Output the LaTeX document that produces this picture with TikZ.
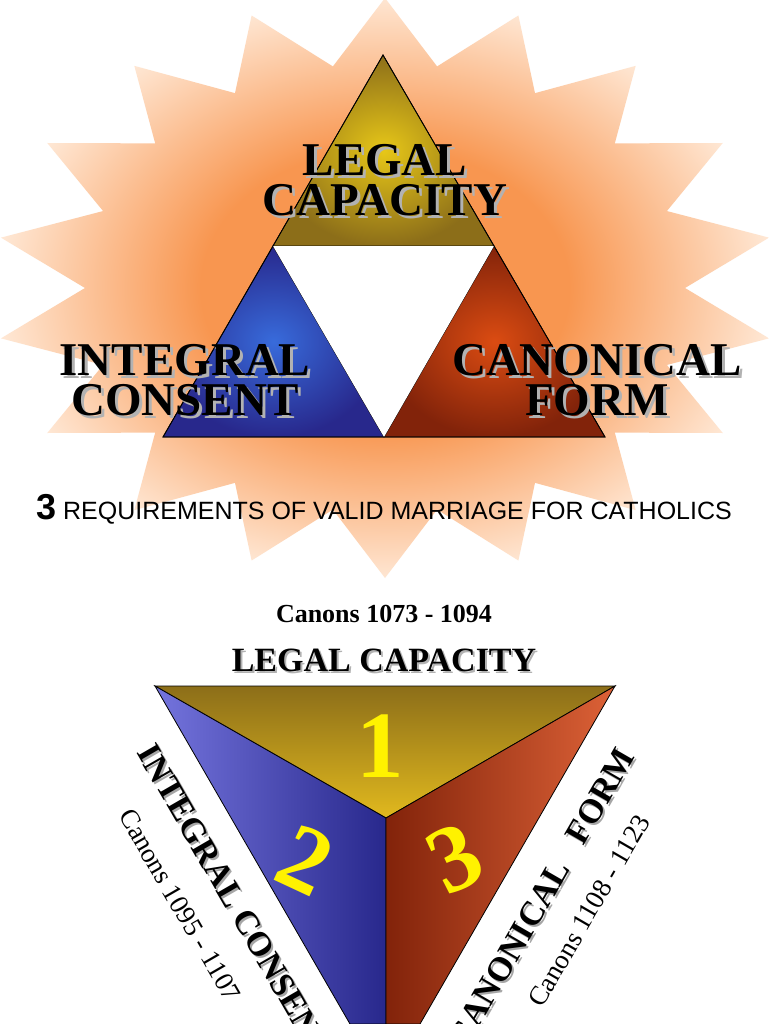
\documentclass[tikz,border=0pt]{standalone}
\usepackage{fontspec}
\setmainfont{Liberation Serif}
\newfontfamily\arialf{Liberation Sans}
\definecolor{gold}{RGB}{225,185,30}
\definecolor{golddk}{RGB}{140,110,25}
\definecolor{blu}{RGB}{70,70,210}
\definecolor{bludk}{RGB}{40,40,140}
\definecolor{rd}{RGB}{215,70,20}
\definecolor{rddk}{RGB}{130,35,10}
\definecolor{orin}{RGB}{248,150,80}
\definecolor{orout}{RGB}{255,236,220}
\pgfdeclareradialshading{starsh}{\pgfpoint{0bp}{0bp}}{color(0bp)=(orin); color(12bp)=(orin); color(26bp)=(orout); color(50bp)=(orout)}
\tikzset{
 big/.style={font=\fontsize{47}{40}\selectfont\bfseries, align=center, text=black},
 shad/.style={font=\fontsize{47}{40}\selectfont\bfseries, align=center, text=black!30},
 facet/.style={draw=black, line width=0.8pt},
 num/.style={font=\fontsize{95}{95}\selectfont\bfseries, text=yellow},
 edgetxt/.style={font=\fontsize{34}{34}\selectfont\bfseries},
 edgeshad/.style={font=\fontsize{34}{34}\selectfont\bfseries, text=black!35},
 cantxt/.style={font=\fontsize{27}{27}\selectfont}
}
\begin{document}
\begin{tikzpicture}[x=1pt,y=-1pt]
\useasboundingbox (0,0) rectangle (768,1024);
\fill[white] (0,0) rectangle (768,1024);
% starburst
\shade[shading=starsh]
  plot[samples=37, domain=0:36, variable=\k]
  ({385+(mod(\k,2)==0 ? 390 : 300)*sin(\k*10)}, {288-(mod(\k,2)==0 ? 290 : 225)*cos(\k*10)}) -- cycle;
% top triangle
\coordinate (A) at (383,55);
\coordinate (B) at (163,437);
\coordinate (C) at (605,437);
\coordinate (L) at (273,246);
\coordinate (R) at (494,246);
\coordinate (M) at (384,437);
\shade[facet, inner color=gold!80!yellow, outer color=golddk] (A) -- (L) -- (R) -- cycle;
\shade[facet, inner color=blu!80!cyan, outer color=bludk] (L) -- (B) -- (M) -- cycle;
\shade[facet, inner color=rd!90!orange, outer color=rddk] (R) -- (M) -- (C) -- cycle;
\fill[white] (L) -- (R) -- (M) -- cycle;
\draw[line width=0.8pt] (A) -- (B) -- (C) -- cycle;
\node[shad] at (388,183) {LEGAL\\CAPACITY};
\node[big] (lc) at (385,180) {LEGAL\\CAPACITY};
\node[shad] at (188,383) {INTEGRAL\\CONSENT};
\node[big] (ic) at (185,380) {INTEGRAL\\CONSENT};
\node[shad] at (600,383) {CANONICAL\\FORM};
\node[big] (cf) at (597,380) {CANONICAL\\FORM};
\node[font=\arialf\fontsize{25}{25}\selectfont] (cap) at (384,509)
  {{\fontsize{36}{36}\selectfont\bfseries 3} REQUIREMENTS OF VALID MARRIAGE FOR CATHOLICS};
% bottom
\node[font=\fontsize{26}{26}\selectfont\bfseries] (can) at (384,614) {Canons 1073 - 1094};
\node[font=\fontsize{34}{34}\selectfont\bfseries, text=black!30] at (386,662) {LEGAL CAPACITY};
\node[font=\fontsize{34}{34}\selectfont\bfseries] (lc2) at (384,660) {LEGAL CAPACITY};
\coordinate (P) at (155,686);
\coordinate (Q) at (615,686);
\coordinate (O) at (386,818);
\coordinate (LB) at (350,1024);
\coordinate (RB) at (420,1024);
\coordinate (OB) at (386,1024);
\shade[facet, top color=golddk, bottom color=gold] (P) -- (Q) -- (O) -- cycle;
\shade[facet, left color=blu!75!white, right color=bludk] (P) -- (O) -- (OB) -- (LB) -- cycle;
\shade[facet, left color=rddk, right color=rd!85!white] (Q) -- (O) -- (OB) -- (RB) -- cycle;
\node[num] (n1) at (380,746) {1};
\node[num, rotate=-25] (n2) at (305,860) {2};
\node[num, rotate=25] (n3) at (455,858) {3};
% left edge texts
\node[edgeshad, rotate=-60, anchor=west] at (146,746) {INTEGRAL CONSENT};
\node[edgetxt, rotate=-60, anchor=west] (ict) at (144,744) {INTEGRAL CONSENT};
\node[cantxt, rotate=-60, anchor=west] (c2) at (124,808) {Canons 1095 - 1107};
% right edge texts
\node[edgeshad, rotate=60, anchor=east] at (630,750) {CANONICAL\hspace{0.5em} FORM};
\node[edgetxt, rotate=60, anchor=east] (cft) at (628,748) {CANONICAL\hspace{0.5em} FORM};
\node[cantxt, rotate=60, anchor=east] (c3) at (645,814) {Canons 1108 - 1123};
\end{tikzpicture}
\end{document}
